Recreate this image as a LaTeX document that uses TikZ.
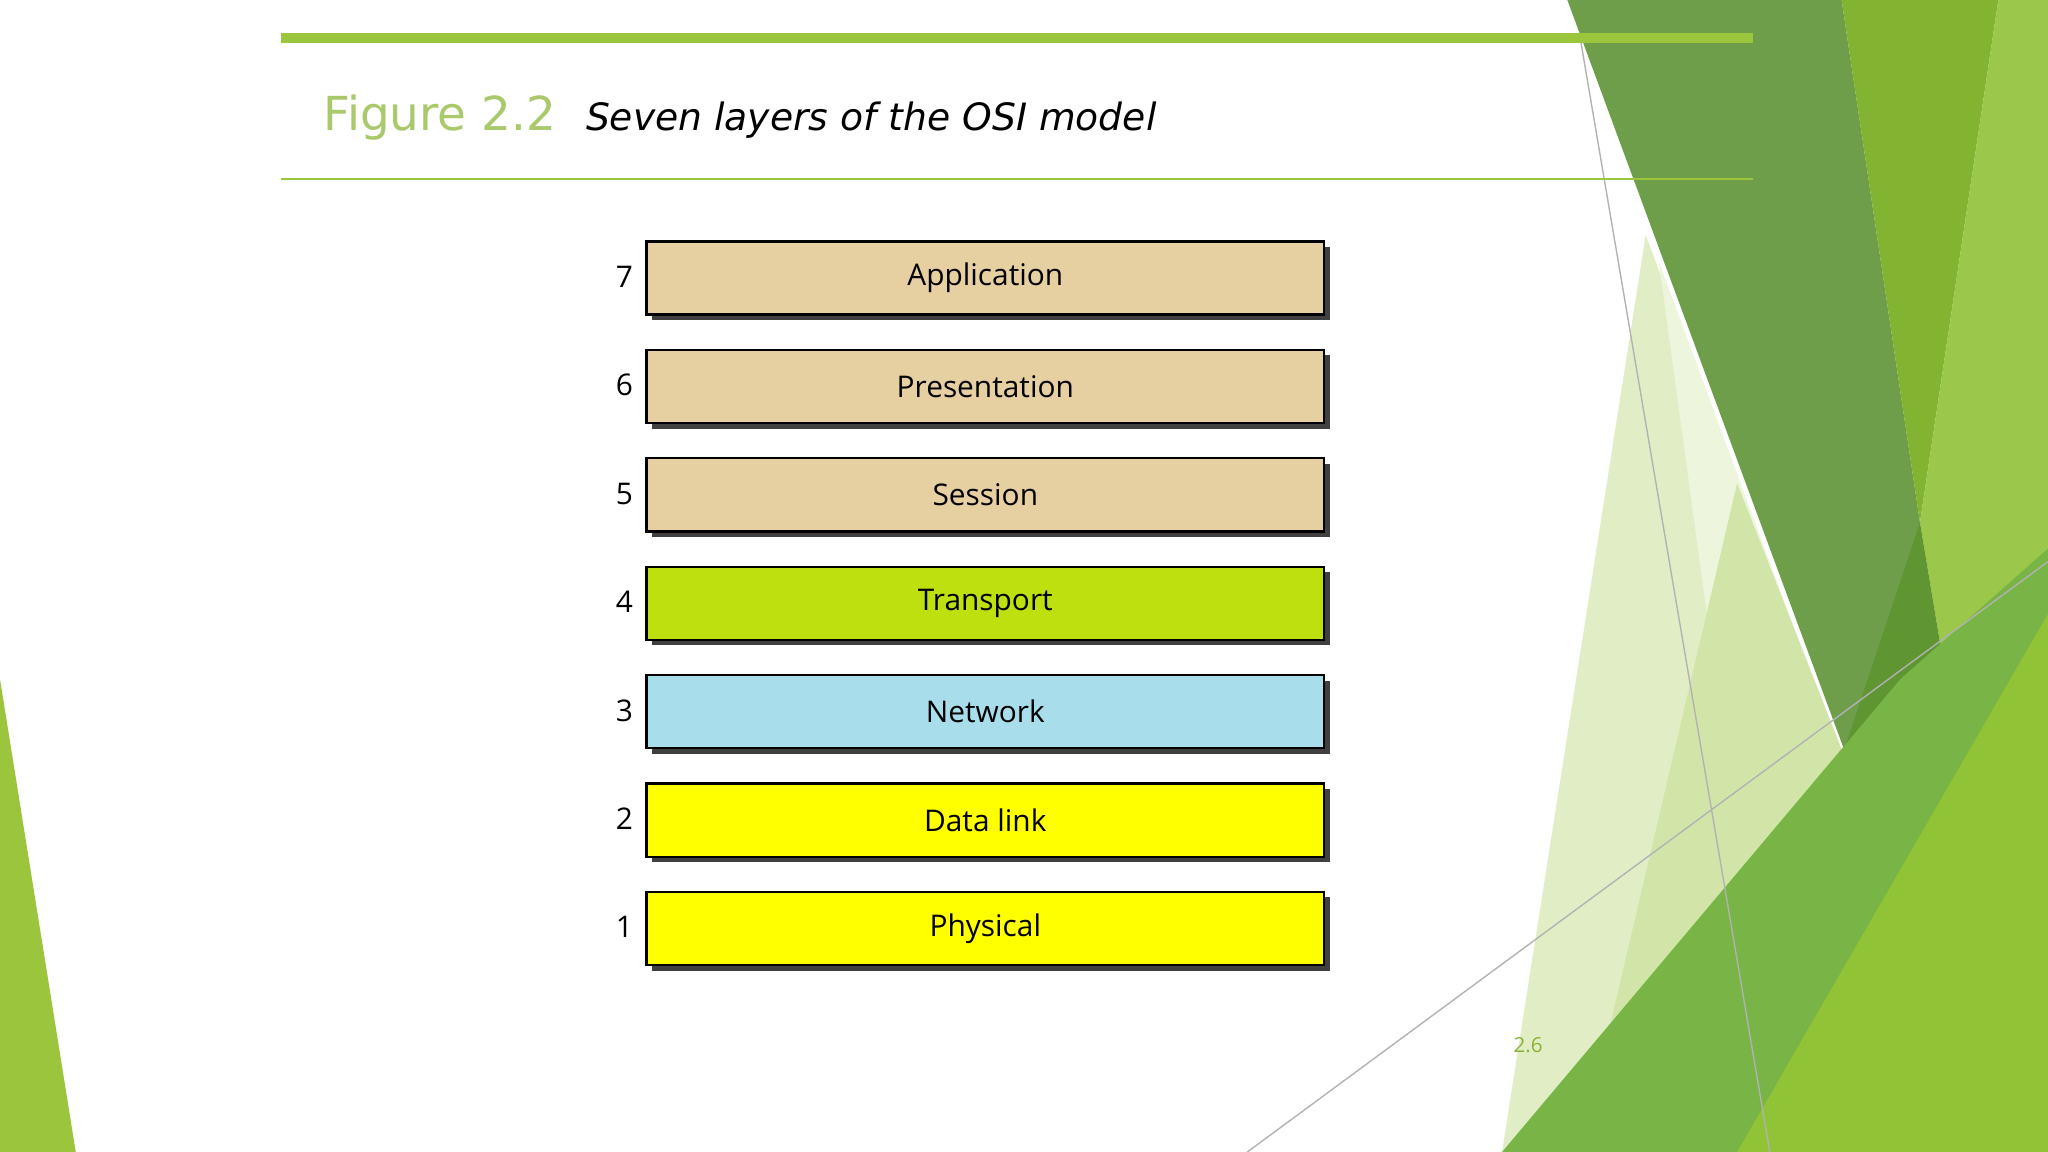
\documentclass[tikz,border=0pt]{standalone}
\usepackage{fontspec}
\setmainfont{Open Sans}
\newfontfamily\titlefont{DejaVu Sans}
\begin{document}
\begin{tikzpicture}[x=0.01cm,y=-0.01cm,
  layer/.style={draw=black,line width=0.5pt,minimum width=519*0.01cm,minimum height=56*0.01cm,anchor=north west,inner sep=0,font=\fontsize{6.5}{8}\selectfont,
    preaction={fill=black!75,transform canvas={xshift=1.2pt,yshift=-1.2pt}}},
  num/.style={font=\fontsize{6.5}{8}\selectfont,anchor=center}]
\definecolor{tan}{HTML}{E6CFA0}
\definecolor{trans}{HTML}{BFE00F}
\definecolor{net}{HTML}{A8DDEB}
\definecolor{yel}{HTML}{FFFF00}
\definecolor{gbar}{HTML}{9BC53D}
\definecolor{gtitle}{HTML}{A9C96B}
\useasboundingbox (0,0) rectangle (1568,882);
\fill[white] (0,0) rectangle (1568,882);
% decorative shapes right
\fill[fill=gbar!30] (1260,180) -- (1410,580) -- (1300,882) -- (1150,882) -- cycle;
\fill[fill=gbar!18] (1270,200) -- (1410,580) -- (1330,640) -- cycle;
\fill[fill=gbar!45] (1330,370) -- (1440,650) -- (1250,882) -- (1210,882) -- cycle;
\fill[fill={rgb,255:red,110;green,158;blue,74}] (1200,0) -- (1410,0) -- (1470,400) -- (1440,650) -- cycle;
\fill[fill={rgb,255:red,130;green,180;blue,50}] (1410,0) -- (1530,0) -- (1470,400) -- cycle;
\fill[fill={rgb,255:red,155;green,200;blue,75}] (1530,0) -- (1568,0) -- (1568,882) -- (1500,580) -- (1470,400) -- cycle;
\fill[fill={rgb,255:red,95;green,150;blue,50}] (1410,580) -- (1470,400) -- (1500,580) -- (1440,650) -- cycle;
\fill[fill={rgb,255:red,120;green,180;blue,70}] (1150,882) -- (1455,520) -- (1568,420) -- (1568,882) -- cycle;
\fill[fill={rgb,255:red,145;green,195;blue,55}] (1330,882) -- (1568,470) -- (1568,882) -- cycle;
\draw[gray!60,line width=0.3pt] (1210,30) -- (1355,882);
\draw[gray!60,line width=0.3pt] (955,882) -- (1568,430);
% left triangle
\fill[fill=gbar] (0,520) -- (58,882) -- (0,882) -- cycle;
% header
\fill[gbar] (215,25) rectangle (1342,33);
\draw[gbar,line width=0.6pt] (215,137) -- (1342,137);
\node[anchor=west,text=gtitle,font=\titlefont\fontsize{10.2}{12}\selectfont,inner sep=0] (fig) at (247,90) {Figure 2.2};
\node[anchor=west,font=\titlefont\itshape\fontsize{8.2}{10}\selectfont,inner sep=0] (cap) at (448,92) {Seven layers of the OSI model};
% layers
\foreach \n/\y/\c/\t in {7/184/tan/Application,6/267/tan/Presentation,5/350/tan/Session,4/433/trans/Transport,3/516/net/Network,2/599/yel/Data link,1/682/yel/Physical}{
  \node[layer,fill=\c] (L\n) at (494,\y) {\t};
  \node[num] (N\n) at (478,\y+28) {\n};
}
\node[text=gbar!90!black,font=\fontsize{4.5}{5}\selectfont] (pg) at (1170,800) {2.6};
\end{tikzpicture}
\end{document}
